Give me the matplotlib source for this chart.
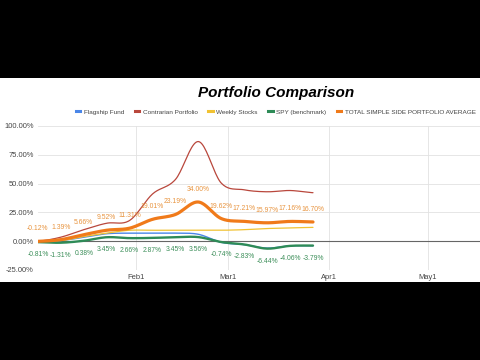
import numpy as np
import matplotlib.pyplot as plt
import matplotlib.dates as mdates
from matplotlib.patches import Rectangle
from matplotlib.lines import Line2D
import datetime as dt

# Dados semanais (% de retorno acumulado)
datas = [dt.date(2021, 1, 2) + dt.timedelta(days=7 * i) for i in range(13)]
flagship = [-0.4, 0.5, 3.5, 6.5, 7.0, 7.0, 7.0, 6.0, -1.0, -3.0, -6.0, -4.0, -4.0]
contrarian = [0.0, 3.5, 10.0, 15.6, 18.0, 41.0, 53.6, 86.5, 50.4, 44.6, 42.9, 44.0, 42.1]
weekly = [0.0, 0.5, 4.0, 7.0, 9.5, 9.5, 9.5, 9.5, 9.5, 10.0, 11.0, 11.5, 12.0]
spy = [-0.81, -1.31, 0.38, 3.45, 2.66, 2.87, 3.45, 3.56, -0.74, -2.83, -6.44, -4.06, -3.79]
total = [-0.12, 1.39, 5.66, 9.52, 11.31, 19.01, 23.19, 34.00, 19.62, 17.21, 15.97, 17.16, 16.70]

nomes = ["Flagship Fund", "Contrarian Portfolio", "Weekly Stocks", "SPY (benchmark)",
         "TOTAL SIMPLE SIDE PORTFOLIO AVERAGE"]
cores = ["#4a86e8", "#b9473c", "#f1c232", "#2e8b57", "#f07a1a"]
larguras = [1.0, 0.9, 0.9, 1.7, 2.3]

yticks = [-25, 0, 25, 50, 75, 100]
xticks = [dt.date(2021, 2, 1), dt.date(2021, 3, 1), dt.date(2021, 4, 1), dt.date(2021, 5, 1)]
xtick_labels = ["Feb1", "Mar1", "Apr1", "May1"]


# curva suave (Catmull-Rom) so para o desenho da linha
def suavizar(x, y, n=20):
    x = np.asarray(x, float)
    y = np.asarray(y, float)
    px = np.concatenate([[2 * x[0] - x[1]], x, [2 * x[-1] - x[-2]]])
    py = np.concatenate([[y[0]], y, [y[-1]]])
    xs, ys = [], []
    t = np.linspace(0, 1, n, endpoint=False)
    for i in range(1, len(px) - 2):
        p0, p1, p2, p3 = py[i - 1], py[i], py[i + 1], py[i + 2]
        ys.append(0.5 * ((2 * p1) + (-p0 + p2) * t + (2 * p0 - 5 * p1 + 4 * p2 - p3) * t ** 2
                         + (-p0 + 3 * p1 - 3 * p2 + p3) * t ** 3))
        xs.append(px[i] + (px[i + 1] - px[i]) * t)
    xs.append([x[-1]])
    ys.append([y[-1]])
    return np.concatenate(xs), np.concatenate(ys)


plt.rcParams['font.family'] = ['Liberation Sans', 'DejaVu Sans']

fig = plt.figure(figsize=(4.8, 3.6), dpi=100, facecolor="black")
fig.patches.append(Rectangle((0, 0.2167), 1, 0.5667, transform=fig.transFigure,
                             facecolor="white", edgecolor="none", zorder=-5))

ax = fig.add_axes([0.079, 0.25, 0.921, 0.40])
ax.set_zorder(2)
ax.set_facecolor("white")

xnum = mdates.date2num(datas)
series = [flagship, contrarian, weekly, spy, total]
ordem = [2, 1, 0, 3, 4]
for i in ordem:
    sx, sy = suavizar(xnum, series[i])
    ax.plot(sx, sy, color=cores[i], lw=larguras[i], zorder=3 + i, solid_capstyle="round")

# rotulos de dados
for xv, v in zip(xnum, total):
    ax.annotate(f"{v:.2f}%", (xv, v), xytext=(0, 9), textcoords="offset points",
                ha="center", va="center", fontsize=4.9, color="#e8943f", zorder=10)
for xv, v in zip(xnum, spy):
    ax.annotate(f"{v:.2f}%", (xv, v), xytext=(0, -9), textcoords="offset points",
                ha="center", va="center", fontsize=4.9, color="#3d8f5a", zorder=10)

ax.set_ylim(-25, 100)
ax.set_xlim(xnum[0], mdates.date2num(dt.date(2021, 5, 17)))
ax.set_yticks(yticks)
ax.set_yticklabels([f"{v:.2f}%" for v in yticks])
ax.set_xticks(mdates.date2num(xticks))
ax.set_xticklabels(xtick_labels)
ax.tick_params(length=0, labelsize=5.4, colors="#444444", pad=3)
ax.grid(True, color="#e2e2e2", lw=0.6)
ax.axhline(0, color="#666666", lw=0.8, zorder=2)
for s in ax.spines.values():
    s.set_visible(False)

fig.text(0.575, 0.742, "Portfolio Comparison", ha="center", va="center",
         fontsize=11, fontweight="bold", fontstyle="italic", color="black")

handles = [Line2D([0], [0], color=c, lw=2.2) for c in cores]
fig.legend(handles, nomes, loc="center", bbox_to_anchor=(0.575, 0.689), ncol=5,
           frameon=False, fontsize=4.6, handlelength=0.7, columnspacing=1.6,
           handletextpad=0.6, labelcolor="#444444")

fig.savefig("out.png", dpi=100, facecolor="black")
